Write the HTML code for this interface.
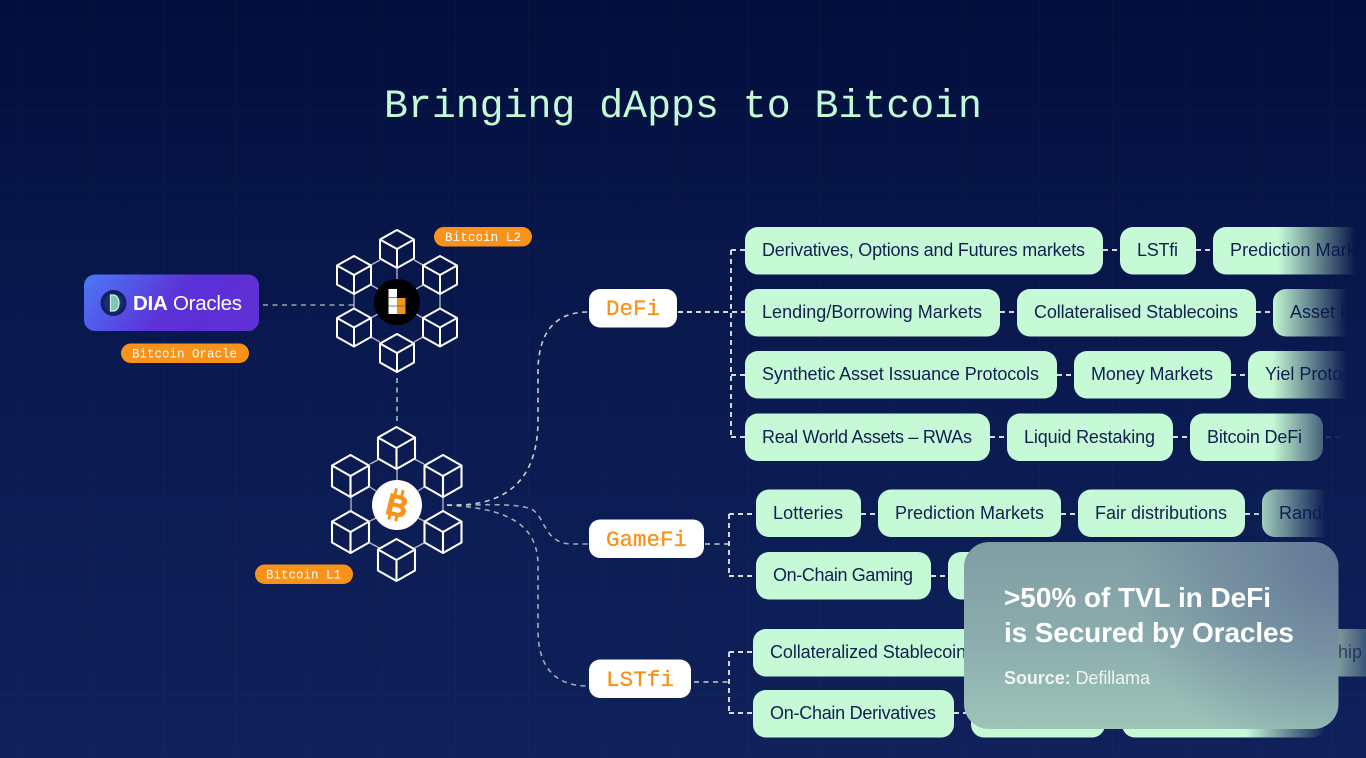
<!DOCTYPE html>
<html lang="en">
<head>
<meta charset="utf-8">
<title>Bringing dApps to Bitcoin</title>
<style>
html,body{margin:0;padding:0;width:1366px;height:758px;overflow:hidden;background:#06143f}
svg{display:block}
.s{font-family:"Liberation Sans",sans-serif}
.m{font-family:"Liberation Mono",monospace}
.p{fill:#c6fad6}
.t{font-family:"Liberation Sans",sans-serif;font-size:18px;fill:#10204f}
.d{fill:none;stroke:#eefbf2;stroke-width:1.7;stroke-dasharray:5 4}
.c{fill:none;stroke:#b5dcc8;stroke-width:1.6;stroke-dasharray:5 4.5}
.g{stroke:#fff;stroke-opacity:.02;stroke-width:1}
.tag{font-family:"Liberation Mono",monospace;font-size:12.5px;fill:#fff}
.n{font-family:"Liberation Mono",monospace;font-size:22.5px;fill:#f7931a;stroke:#f7931a;stroke-width:.3}
</style>
</head>
<body>
<svg width="1366" height="758" viewBox="0 0 1366 758" xmlns="http://www.w3.org/2000/svg">
<defs>
<linearGradient id="bg" x1="0" y1="0" x2="0" y2="1"><stop offset="0" stop-color="#030e3c"/><stop offset=".5" stop-color="#0a1a50"/><stop offset="1" stop-color="#10215b"/></linearGradient>
<linearGradient id="dia" x1="0" y1="0" x2="1" y2=".25"><stop offset="0" stop-color="#4a7af6"/><stop offset=".6" stop-color="#5c31d8"/><stop offset="1" stop-color="#5e30d6"/></linearGradient>
<linearGradient id="panel" x1="0" y1="0" x2="0" y2="1"><stop offset="0" stop-color="#7f9ea4"/><stop offset=".55" stop-color="#8cadae"/><stop offset="1" stop-color="#9dc4b7"/></linearGradient>
<radialGradient id="panel4" gradientUnits="userSpaceOnUse" cx="1338" cy="560" r="210"><stop offset="0" stop-color="#5f7596" stop-opacity=".9"/><stop offset="1" stop-color="#5f7596" stop-opacity="0"/></radialGradient>
<linearGradient id="hip" gradientUnits="userSpaceOnUse" x1="1338" y1="0" x2="1366" y2="0"><stop offset="0" stop-color="#7d9a9a"/><stop offset="1" stop-color="#3b5679"/></linearGradient>
<linearGradient id="f1" gradientUnits="userSpaceOnUse" x1="1278" y1="0" x2="1356" y2="0"><stop offset="0" stop-color="#fff"/><stop offset="1" stop-color="#000"/></linearGradient>
<linearGradient id="f2" gradientUnits="userSpaceOnUse" x1="1272" y1="0" x2="1347" y2="0"><stop offset="0" stop-color="#fff"/><stop offset="1" stop-color="#000"/></linearGradient>
<linearGradient id="f3" gradientUnits="userSpaceOnUse" x1="1246" y1="0" x2="1326" y2="0"><stop offset="0" stop-color="#fff"/><stop offset="1" stop-color="#000"/></linearGradient>
<mask id="m1" maskUnits="userSpaceOnUse" x="0" y="0" width="1366" height="758"><rect width="1366" height="758" fill="url(#f1)"/></mask>
<mask id="m2" maskUnits="userSpaceOnUse" x="0" y="0" width="1366" height="758"><rect width="1366" height="758" fill="url(#f2)"/></mask>
<mask id="m3" maskUnits="userSpaceOnUse" x="0" y="0" width="1366" height="758"><rect width="1366" height="758" fill="url(#f3)"/></mask>
<g id="cs"><path d="M0-19L17-9.5V9.5L0 19L-17 9.5V-9.5ZM-17-9.5L0 0L17-9.5M0 0V19" fill="none" stroke="#fff" stroke-width="2" stroke-linejoin="round"/></g>
<g id="cb"><path d="M0-21L18.5-10.5V10.5L0 21L-18.5 10.5V-10.5ZM-18.5-10.5L0 0L18.5-10.5M0 0V21" fill="none" stroke="#fff" stroke-width="2.1" stroke-linejoin="round"/></g>
</defs>

<rect width="1366" height="758" fill="url(#bg)"/>
<path class="g" d="M17.5 0V758M90.5 0V758M163.5 0V758M236.5 0V758M309.5 0V758M382.5 0V758M455.5 0V758M528.5 0V758M601.5 0V758M674.5 0V758M747.5 0V758M820.5 0V758M893.5 0V758M966.5 0V758M1039.5 0V758M1112.5 0V758M1185.5 0V758M1258.5 0V758M1331.5 0V758M0 38.5H1366M0 111.5H1366M0 184.5H1366M0 257.5H1366M0 330.5H1366M0 403.5H1366M0 476.5H1366M0 549.5H1366M0 622.5H1366M0 695.5H1366"/>

<text x="384" y="117" class="m" font-size="39.9" fill="#c4f9d5" textLength="598">Bringing dApps to Bitcoin</text>

<!-- left connectors -->
<path class="c" d="M263 305H354" stroke-opacity=".75"/>
<path class="c" d="M397 378V424" stroke-opacity=".85"/>
<path class="c" d="M447 505C495 507 538 490 538 420V372C538 335 553 312 588 312"/>
<path class="c" d="M447 505C490 505 520 503 533 510C545 518 545 544 572 544H588" stroke-opacity=".8"/>
<path class="c" d="M447 505C490 508 538 515 538 565V630C538 665 553 686 588 686" stroke-opacity=".8"/>

<!-- top cluster links -->
<path d="M414 260L423 265M380 260L371 265M354 294V308M440 294V308M371 337L380 342M423 337L414 342M397 268V282M371 285L378 289M423 285L416 289M371 318L378 314M423 318L416 314" fill="none" stroke="#fff" stroke-opacity=".7" stroke-width="1.3"/>
<use href="#cs" x="397" y="249"/><use href="#cs" x="354" y="275"/><use href="#cs" x="440" y="275"/><use href="#cs" x="354" y="327.500"/><use href="#cs" x="440" y="327.500"/><use href="#cs" x="397" y="353"/>
<circle cx="397" cy="302" r="23" fill="#000"/>
<rect x="388.500" y="289" width="8.500" height="25" fill="#fff"/><rect x="397" y="298" width="8.500" height="16" fill="#f7931a"/>
<path d="M388 297.500H397M388 306H406" stroke="#555" stroke-width=".8"/>

<!-- bottom cluster links -->
<path d="M414.500 459L424 464M379.500 459L370 464M351 497V511M443 497V511M370 543L379.500 548M424 543L414.500 548M397 469V482M370 487L376 491M424 487L418 491M370 521L376 518M424 521L418 518" fill="none" stroke="#fff" stroke-opacity=".7" stroke-width="1.3"/>
<use href="#cb" x="396.500" y="448"/><use href="#cb" x="350.500" y="476"/><use href="#cb" x="443" y="476"/><use href="#cb" x="350.500" y="532"/><use href="#cb" x="443" y="532"/><use href="#cb" x="396.500" y="560"/>
<circle cx="397" cy="505" r="25" fill="#fff"/>
<g transform="rotate(14 397 505)" fill="#f7931a">
<text x="397.500" y="516" text-anchor="middle" class="s" font-size="30" font-weight="700" stroke="#f7931a" stroke-width=".9">B</text>
<rect x="391" y="489" width="3" height="6"/><rect x="398" y="489" width="3" height="6"/><rect x="391" y="515" width="3" height="6"/><rect x="398" y="515" width="3" height="6"/>
</g>

<!-- DIA -->
<rect x="84" y="274.500" width="175" height="56.500" rx="11" fill="url(#dia)"/>
<circle cx="113.500" cy="303" r="13" fill="#14215f"/>
<circle cx="113.500" cy="303" r="9.500" fill="#1a2e78"/>
<path d="M110.500 295V311H113C121 311 121 295 113 295Z" fill="#7cc7b4" stroke="#d1f2e0" stroke-width="1.200"/>
<text x="133" y="310" class="s" font-size="20.500" fill="#fff" textLength="109"><tspan font-weight="700">DIA</tspan> Oracles</text>

<!-- tags -->
<rect x="434" y="227" width="98" height="19.500" rx="9.750" fill="#f7931a"/><text x="445" y="241" class="tag" textLength="76">Bitcoin L2</text>
<rect x="121" y="343.500" width="128" height="19.500" rx="9.750" fill="#f7931a"/><text x="132" y="357.500" class="tag" textLength="105">Bitcoin Oracle</text>
<rect x="255" y="564.500" width="98" height="19.500" rx="9.750" fill="#f7931a"/><text x="266" y="578.500" class="tag" textLength="75">Bitcoin L1</text>

<!-- category nodes -->
<rect x="589" y="289" width="88" height="38.500" rx="11" fill="#fff"/><text x="606" y="315" class="n" textLength="54">DeFi</text>
<rect x="589" y="519.500" width="115" height="38.500" rx="11" fill="#fff"/><text x="606" y="546" class="n" textLength="81">GameFi</text>
<rect x="589" y="659.500" width="102" height="38.500" rx="11" fill="#fff"/><text x="606" y="686" class="n" textLength="68">LSTfi</text>

<!-- branches -->
<path class="d" d="M678 312H745M731 250V437M731 250H745M731 375H745M731 437H745"/>
<path class="c" d="M705 544H729"/><path class="d" d="M729 514V576M729 514H756M729 576H756"/>
<path class="c" d="M694 682H729"/><path class="d" d="M729 652V713M729 652H753M729 713H753"/>

<!-- row 1 -->
<g mask="url(#m1)">
<path class="d" d="M1103 250H1120M1196 250H1213"/>
<rect x="745" y="227" width="358" height="47.500" rx="13" class="p"/><text x="762" y="256" class="t" textLength="323">Derivatives, Options and Futures markets</text>
<rect x="1120" y="227" width="76" height="47.500" rx="13" class="p"/><text x="1137" y="256" class="t" textLength="41">LSTfi</text>
<rect x="1213" y="227" width="160" height="47.500" rx="13" class="p"/><text x="1230" y="256" class="t" textLength="150">Prediction Markets</text>
</g>
<!-- rows 2-4 -->
<g mask="url(#m2)">
<path class="d" d="M1000 312H1017M1256 312H1273M1057 375H1074M1231 375H1248M990 437H1007M1173 437H1190"/>
<path class="c" d="M1326 437H1352" stroke-opacity=".8"/>
<rect x="745" y="289" width="255" height="47.500" rx="13" class="p"/><text x="762" y="318" class="t" textLength="220">Lending/Borrowing Markets</text>
<rect x="1017" y="289" width="239" height="47.500" rx="13" class="p"/><text x="1034" y="318" class="t" textLength="204">Collateralised Stablecoins</text>
<rect x="1273" y="289" width="100" height="47.500" rx="13" class="p"/><text x="1290" y="318" class="t">Asset Protocols</text>
<rect x="745" y="351" width="312" height="47.500" rx="13" class="p"/><text x="762" y="380" class="t" textLength="277">Synthetic Asset Issuance Protocols</text>
<rect x="1074" y="351" width="157" height="47.500" rx="13" class="p"/><text x="1091" y="380" class="t" textLength="122">Money Markets</text>
<rect x="1248" y="351" width="120" height="47.500" rx="13" class="p"/><text x="1265" y="380" class="t">Yiel Protocols</text>
<rect x="745" y="413.500" width="245" height="47.500" rx="13" class="p"/><text x="762" y="443" class="t" textLength="210">Real World Assets – RWAs</text>
<rect x="1007" y="413.500" width="166" height="47.500" rx="13" class="p"/><text x="1024" y="443" class="t" textLength="131">Liquid Restaking</text>
<rect x="1190" y="413.500" width="133" height="47.500" rx="13" class="p"/><text x="1207" y="443" class="t" textLength="95">Bitcoin DeFi</text>
</g>
<!-- GameFi + LSTfi rows -->
<g mask="url(#m3)">
<path class="d" d="M861 514H878M1061 514H1078M1245 514H1262M931 576H948M954 713H971M1105 713H1122"/>
<rect x="756" y="489.500" width="105" height="47.500" rx="13" class="p"/><text x="773" y="519" class="t" textLength="70">Lotteries</text>
<rect x="878" y="489.500" width="183" height="47.500" rx="13" class="p"/><text x="895" y="519" class="t" textLength="149">Prediction Markets</text>
<rect x="1078" y="489.500" width="167" height="47.500" rx="13" class="p"/><text x="1095" y="519" class="t" textLength="132">Fair distributions</text>
<rect x="1262" y="489.500" width="90" height="47.500" rx="13" class="p"/><text x="1279" y="519" class="t">Randomness</text>
<rect x="756" y="552" width="175" height="47.500" rx="13" class="p"/><text x="773" y="581" class="t" textLength="140">On-Chain Gaming</text>
<rect x="948" y="552" width="120" height="47.500" rx="13" class="p"/>
<rect x="753" y="629" width="260" height="47.500" rx="13" class="p"/><text x="770" y="658" class="t" textLength="205">Collateralized Stablecoins</text>
<rect x="753" y="690" width="201" height="47.500" rx="13" class="p"/><text x="770" y="719" class="t" textLength="166">On-Chain Derivatives</text>
<rect x="971" y="690" width="134" height="47.500" rx="13" class="p"/>
<rect x="1122" y="690" width="203" height="47.500" rx="13" class="p"/>
</g>
<rect x="1320" y="629" width="46" height="47.500" fill="url(#hip)"/>
<text x="1338" y="658" class="t" fill-opacity=".7">hip</text>

<!-- panel -->
<rect x="964" y="542" width="374.500" height="187" rx="25" fill="url(#panel)"/>
<rect x="964" y="542" width="374.500" height="187" rx="25" fill="url(#panel4)"/>
<text x="1004" y="607" class="s" font-size="28" font-weight="700" fill="#fff" textLength="267">&gt;50% of TVL in DeFi</text>
<text x="1004" y="642" class="s" font-size="28" font-weight="700" fill="#fff" textLength="290">is Secured by Oracles</text>
<text x="1004" y="684" class="s" font-size="18" fill="#eef5f2" textLength="146"><tspan font-weight="700">Source:</tspan> Defillama</text>
</svg>
</body>
</html>
